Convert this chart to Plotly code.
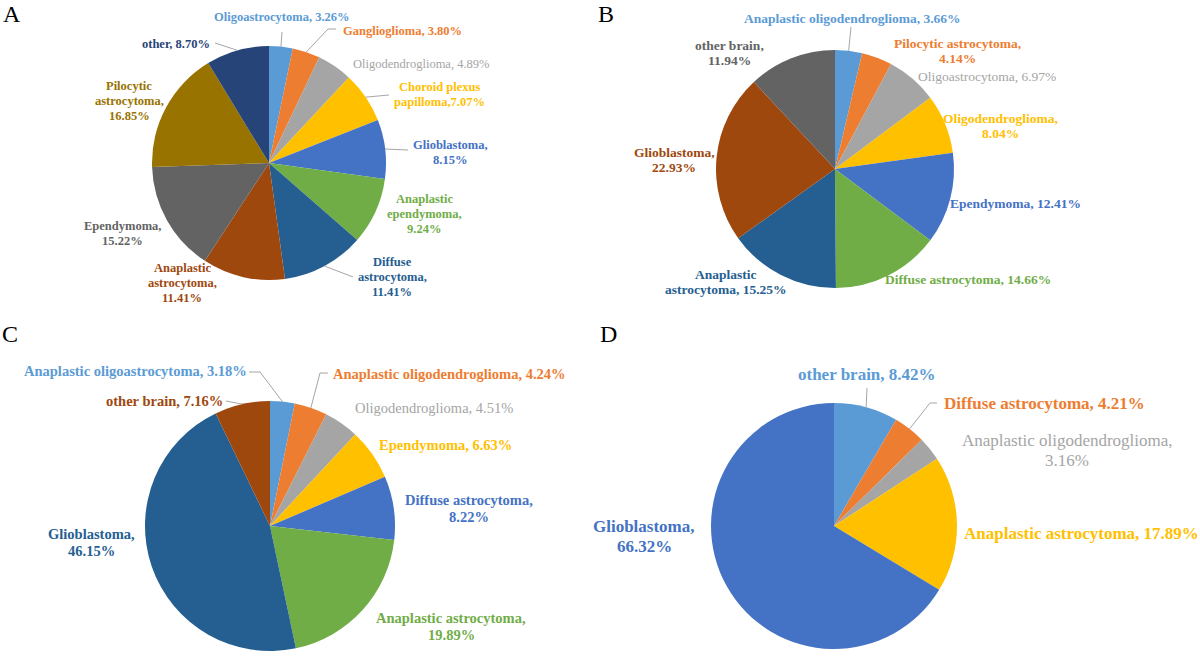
import math
import plotly.graph_objects as go

W, H = 1200, 659

# ---- data ----
names_a = ["Oligoastrocytoma", "Ganglioglioma", "Oligodendroglioma", "Choroid plexus papilloma",
           "Glioblastoma", "Anaplastic ependymoma", "Diffuse astrocytoma", "Anaplastic astrocytoma",
           "Ependymoma", "Pilocytic astrocytoma", "other"]
values_a = [3.26, 3.80, 4.89, 7.07, 8.15, 9.24, 11.41, 11.41, 15.22, 16.85, 8.70]

names_b = ["Anaplastic oligodendroglioma", "Pilocytic astrocytoma", "Oligoastrocytoma", "Oligodendroglioma",
           "Ependymoma", "Diffuse astrocytoma", "Anaplastic astrocytoma", "Glioblastoma", "other brain"]
values_b = [3.66, 4.14, 6.97, 8.04, 12.41, 14.66, 15.25, 22.93, 11.94]

names_c = ["Anaplastic oligoastrocytoma", "Anaplastic oligodendroglioma", "Oligodendroglioma", "Ependymoma",
           "Diffuse astrocytoma", "Anaplastic astrocytoma", "Glioblastoma", "other brain"]
values_c = [3.18, 4.24, 4.51, 6.63, 8.22, 19.89, 46.15, 7.16]

names_d = ["other brain", "Diffuse astrocytoma", "Anaplastic oligodendroglioma", "Anaplastic astrocytoma",
           "Glioblastoma"]
values_d = [8.42, 4.21, 3.16, 17.89, 66.32]

# office palette
colors_a = ["#5B9BD5", "#ED7D31", "#A5A5A5", "#FFC000", "#4472C4", "#70AD47",
            "#255E91", "#9E480E", "#636363", "#997300", "#264478"]
colors_b = ["#5B9BD5", "#ED7D31", "#A5A5A5", "#FFC000", "#4472C4", "#70AD47",
            "#255E91", "#9E480E", "#636363"]
colors_c = ["#5B9BD5", "#ED7D31", "#A5A5A5", "#FFC000", "#4472C4", "#70AD47",
            "#255E91", "#9E480E"]
colors_d = ["#5B9BD5", "#ED7D31", "#A5A5A5", "#FFC000", "#4472C4"]

# ---- label layout (pixel positions of text centres, label format, leader points) ----
# fmt keys: n = name, w = break at first space, w2 = break at last space, v = value
layout_a = dict(letter="A", lpos=(12, 14), center=(269, 163), r=117, size=12.5, lh=15, labels=[
    ((282, 17), "{n}, {v}%", [(282, 32)]),
    ((402, 31), "{n}, {v}%", [(328, 29), (336, 29)]),
    ((421, 64), "{n}, {v}%", None),
    ((440, 95), "{w2},{v}%", [(389, 95)]),
    ((450, 152), "{n},<br>{v}%", [(408, 150)]),
    ((424, 214), "{w},<br>{v}%", None),
    ((392, 277), "{w},<br>{v}%", [(327, 267), (353, 277)]),
    ((182, 283), "{w},<br>{v}%", None),
    ((123, 234), "{n},<br>{v}%", None),
    ((129, 101), "{w},<br>{v}%", None),
    ((176, 44), "{n}, {v}%", [(215, 43)]),
])
layout_b = dict(letter="B", lpos=(606, 14), center=(835, 169), r=119, size=13.5, lh=15, labels=[
    ((852, 19), "{n}, {v}%", [(851, 27)]),
    ((957, 51), "{n},<br>{v}%", None),
    ((987, 77), "{n}, {v}%", None),
    ((1000, 126), "{n},<br>{v}%", None),
    ((1015, 203), "{n}, {v}%", None),
    ((968, 279), "{n}, {v}%", None),
    ((726, 282), "{w}, {v}%", None),
    ((674, 160), "{n},<br>{v}%", None),
    ((730, 53), "{n},<br>{v}%", None),
])
layout_c = dict(letter="C", lpos=(10, 334), center=(270, 526), r=125, size=14.5, lh=17, labels=[
    ((135, 371), "{n}, {v}%", [(260, 372), (249, 372)]),
    ((449, 374), "{n}, {v}%", [(320, 373), (328, 373)]),
    ((434, 408), "{n}, {v}%", None),
    ((445, 445), "{n}, {v}%", None),
    ((469, 508), "{n},<br>{v}%", None),
    ((451, 626), "{n},<br>{v}%", None),
    ((91, 542), "{n},<br>{v}%", None),
    ((164, 401), "{n}, {v}%", [(226, 401)]),
])
layout_d = dict(letter="D", lpos=(609, 334), center=(834, 526), r=123, size=17, lh=20, labels=[
    ((867, 374), "{n}, {v}%", [(867, 388)]),
    ((1044, 403), "{n}, {v}%", [(930, 403), (937, 403)]),
    ((1067, 450), "{n},<br>{v}%", None),
    ((1081, 533), "{n}, {v}%", None),
    ((644, 536), "{n},<br>{v}%", None),
])

panels = [(names_a, values_a, colors_a, layout_a),
          (names_b, values_b, colors_b, layout_b),
          (names_c, values_c, colors_c, layout_c),
          (names_d, values_d, colors_d, layout_d)]


def px(x, y):
    return x / W, 1 - y / H


def fmt_label(f, name, val):
    parts = name.split(" ")
    w2 = " ".join(parts[:-1]) + "<br>" + parts[-1] if len(parts) > 1 else name
    return f.format(n=name, w=name.replace(" ", "<br>", 1), w2=w2, v=f"{val:.2f}")


fig = go.Figure()
annotations = []
shapes = []

for names, values, colors, lay in panels:
    cx, cy = lay["center"]
    r = lay["r"]
    x0, y1 = px(cx - r, cy - r)
    x1, y0 = px(cx + r, cy + r)
    fig.add_trace(go.Pie(
        labels=names, values=values, sort=False, direction="clockwise", rotation=0,
        marker=dict(colors=colors, line=dict(width=0)),
        textinfo="none", hoverinfo="label+percent",
        domain=dict(x=[x0, x1], y=[y0, y1]),
    ))

    # panel letter
    lx, ly = px(*lay["lpos"])
    annotations.append(dict(x=lx, y=ly, xref="paper", yref="paper", text=lay["letter"],
                            showarrow=False, xanchor="center", yanchor="middle",
                            font=dict(family="Liberation Serif", size=24, color="black")))

    total = sum(values)
    cum = 0
    for name, val, col, (pos, f, leader) in zip(names, values, colors, lay["labels"]):
        mid = (cum + val / 2) / total * 2 * math.pi
        cum += val
        lines = fmt_label(f, name, val).split("<br>")
        # one annotation per line so the line spacing is tight like the original
        for i, line in enumerate(lines):
            yy = pos[1] + (i - (len(lines) - 1) / 2) * lay["lh"]
            txt = line if col == "#A5A5A5" else "<b>" + line + "</b>"
            ax, ay = px(pos[0], yy)
            annotations.append(dict(x=ax, y=ay, xref="paper", yref="paper", text=txt,
                                    showarrow=False, xanchor="center", yanchor="middle",
                                    font=dict(family="Liberation Serif", size=lay["size"], color=col)))
        if leader:
            sx, sy = cx + r * math.sin(mid), cy - r * math.cos(mid)
            pts = [(sx, sy)] + leader
            path = "M " + " L ".join(f"{px(a, b)[0]:.5f},{px(a, b)[1]:.5f}" for a, b in pts)
            shapes.append(dict(type="path", path=path, xref="paper", yref="paper",
                               line=dict(color="#A6A6A6", width=1)))

fig.update_layout(width=W, height=H, margin=dict(l=0, r=0, t=0, b=0),
                  paper_bgcolor="white", plot_bgcolor="white", showlegend=False,
                  annotations=annotations, shapes=shapes)

# drop the browser's default body margin so the figure sits at the page corner
fig.write_html("out.html", config={"displayModeBar": False},
               post_script="document.body.style.margin='0px';")
